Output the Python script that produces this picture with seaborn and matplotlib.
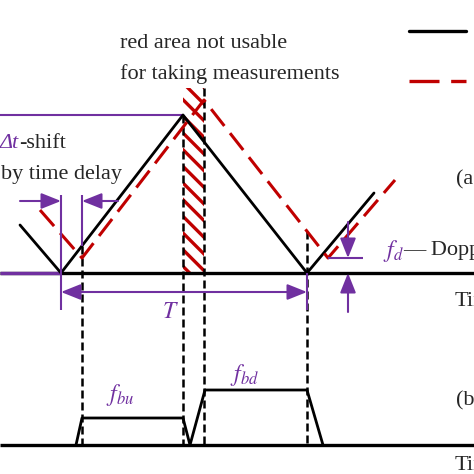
import matplotlib
matplotlib.use("Agg")
import matplotlib.pyplot as plt
import seaborn as sns

# diagram data, in picture units (time -> right, frequency -> up, y axis inverted)
tx_t = [20, 61, 183, 307, 374]
tx_y = [225, 273, 115, 273, 193]
rx_t = [40, 82, 204, 328, 395]
rx_y = [210, 258, 100, 258, 180]
beat_t = [76, 82, 183, 190, 205, 307, 323]
beat_y = [445, 418, 418, 445, 390, 390, 445]
base_a, base_b = 273, 445

# hatched "not usable" strip
strip_t = [183, 204]
strip_top = 88

# dashed guide lines: x, top, bottom
guide_x = [82, 183, 204, 307]
guide_top = [246, 115, 88, 231]

PURPLE = "#7030A0"
RED = "#C00000"

sns.set_theme(style="white")
plt.rcParams["font.family"] = ["Liberation Serif", "DejaVu Serif"]
plt.rcParams["mathtext.fontset"] = "stix"
plt.rcParams["hatch.linewidth"] = 2.4

fig = plt.figure(figsize=(4.74, 4.74), dpi=100)
ax = fig.add_axes([0, 0, 1, 1])
ax.set_xlim(0, 474)
ax.set_ylim(474, 0)
ax.axis("off")

# red hatched area
ax.fill_between(strip_t, [strip_top] * 2, [base_a] * 2, facecolor="none",
                edgecolor=RED, hatch="\\\\", linewidth=0, zorder=1)

# dashed guides
ax.vlines(guide_x, guide_top, base_b, colors="black", linestyles=(0, (3.2, 1.6)),
          lw=1.8, zorder=2)

# baselines
ax.hlines([base_a, base_b], 0, 474, colors="black", lw=2.4, zorder=3)
ax.hlines(base_a, 0, tx_t[1], colors=PURPLE, lw=2.4, zorder=4)

# signals
sns.lineplot(x=tx_t, y=tx_y, sort=False, color="black", lw=2, ax=ax, zorder=5)
sns.lineplot(x=rx_t, y=rx_y, sort=False, color=RED, lw=2.2, ax=ax, zorder=5,
             linestyle=(0, (7, 3)))
sns.lineplot(x=beat_t, y=beat_y, sort=False, color="black", lw=2, ax=ax, zorder=5)

# purple markers
ax.hlines(tx_y[2], 0, tx_t[2], colors=PURPLE, lw=1.5, zorder=4)
ax.vlines([tx_t[1]], 195, 310, colors=PURPLE, lw=1.5, zorder=6)
ax.vlines([rx_t[1]], 195, 246, colors=PURPLE, lw=1.5, zorder=6)
ax.vlines([tx_t[3]], base_a, 310, colors=PURPLE, lw=1.5, zorder=6)
ax.hlines(rx_y[3], rx_t[3], 363, colors=PURPLE, lw=1.5, zorder=6)

arr = dict(arrowstyle="-|>,head_length=1.0,head_width=0.4", color=PURPLE,
           lw=1.5, shrinkA=0, shrinkB=0)
ax.annotate("", xy=(tx_t[1], 201), xytext=(20, 201), arrowprops=arr, zorder=7)
ax.annotate("", xy=(rx_t[1], 201), xytext=(118, 201), arrowprops=arr, zorder=7)
ax.annotate("", xy=(348, rx_y[3]), xytext=(348, 222), arrowprops=arr, zorder=7)
ax.annotate("", xy=(348, base_a), xytext=(348, 312), arrowprops=arr, zorder=7)
arr2 = dict(arr, arrowstyle="<|-|>,head_length=1.0,head_width=0.4")
ax.annotate("", xy=(tx_t[3], 292), xytext=(tx_t[1], 292), arrowprops=arr2, zorder=7)

# legend keys (labels lie outside the crop)
ax.plot([409, 466], [31, 31], color="black", lw=2.4)
ax.plot([409, 466], [81, 81], color=RED, lw=2.4, linestyle=(0, (9, 3.5)))

fs = 16
ax.text(120, 43, "red area not usable", fontsize=fs, va="center")
ax.text(120, 74, "for taking measurements", fontsize=fs, va="center")
ax.text(0, 143, "Δt", fontsize=fs, va="center", color=PURPLE, style="italic")
ax.text(19, 143, "-shift", fontsize=fs, va="center")
ax.text(1, 175, "by time delay", fontsize=fs, va="center")
ax.text(170, 312, "$T$", fontsize=fs + 1, va="center", ha="center", color=PURPLE)
ax.text(120, 395, "$f_{bu}$", fontsize=fs + 1, va="center", ha="center", color=PURPLE)
ax.text(245, 375, "$f_{bd}$", fontsize=fs + 1, va="center", ha="center", color=PURPLE)
ax.text(383, 251, "$f_d$", fontsize=fs + 1, va="center", color=PURPLE)
ax.text(403, 250, "\u2014 Doppler shift", fontsize=fs, va="center")
ax.text(456, 180, "(a)", fontsize=fs, va="center")
ax.text(456, 401, "(b)", fontsize=fs, va="center")
ax.text(455, 302, "Time", fontsize=fs, va="center")
ax.text(455, 465, "Time", fontsize=fs, va="center")

fig.savefig("out.png", dpi=100)
